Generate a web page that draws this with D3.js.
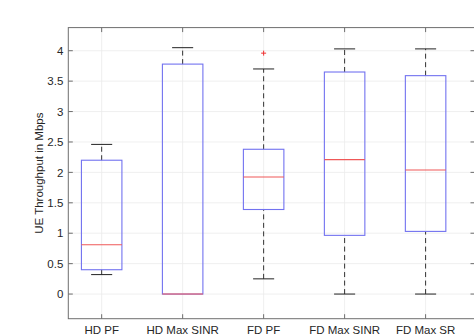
<!DOCTYPE html>
<html>
<head>
<meta charset="utf-8">
<script src="https://cdn.jsdelivr.net/npm/d3@7"></script>
<style>
  html, body { margin: 0; padding: 0; background: #fff; }
  svg { display: block; }
  text { font-family: "Liberation Sans", Arial, Helvetica, sans-serif; fill: #262626; }
</style>
</head>
<body>
<svg id="chart" width="474" height="335"></svg>
<script>
// Per-scheme UE throughput statistics (Mbps)
const categories  = ["HD PF", "HD Max SINR", "FD PF", "FD Max SINR", "FD Max SR"];
const whiskerLow  = [0.32, 0.00, 0.25, 0.00, 0.00];
const q1          = [0.40, 0.00, 1.39, 0.965, 1.03];
const medians     = [0.81, 0.00, 1.925, 2.21, 2.04];
const q3          = [2.20, 3.78, 2.38, 3.65, 3.59];
const whiskerHigh = [2.46, 4.05, 3.70, 4.03, 4.03];
const outliers    = [[], [], [3.96], [], []];
const yTicks      = [0, 0.5, 1, 1.5, 2, 2.5, 3, 3.5, 4];
const yLimits     = [-0.405, 4.38];
const xLimits     = [0.588, 5.61];

const svg = d3.select("#chart");
const plot = { left: 68.3, right: 475, top: 27.6, bottom: 318.7 };

const x = d3.scaleLinear().domain(xLimits).range([plot.left, plot.right]);
const y = d3.scaleLinear().domain(yLimits).range([plot.bottom, plot.top]);
const pos = categories.map((c, i) => i + 1);
const boxHalf = 0.25, capHalf = 0.13, tickLen = 4.5;

// grid
const grid = svg.append("g").attr("stroke", "#ebebeb").attr("stroke-width", 0.8);
grid.selectAll(".gy").data(yTicks).join("line")
  .attr("x1", plot.left).attr("x2", plot.right)
  .attr("y1", d => y(d)).attr("y2", d => y(d));
grid.selectAll(".gx").data(pos).join("line")
  .attr("y1", plot.top).attr("y2", plot.bottom)
  .attr("x1", d => x(d)).attr("x2", d => x(d));

// axes frame and inward ticks
const ax = svg.append("g").attr("stroke", "#6e6e6e").attr("stroke-width", 1).attr("fill", "none");
ax.append("rect").attr("x", plot.left).attr("y", plot.top)
  .attr("width", plot.right - plot.left).attr("height", plot.bottom - plot.top);
yTicks.forEach(t => {
  ax.append("line").attr("x1", plot.left).attr("x2", plot.left + tickLen).attr("y1", y(t)).attr("y2", y(t));
  ax.append("line").attr("x1", plot.right - tickLen).attr("x2", plot.right).attr("y1", y(t)).attr("y2", y(t));
});
pos.forEach(p => {
  ax.append("line").attr("x1", x(p)).attr("x2", x(p)).attr("y1", plot.bottom).attr("y2", plot.bottom - tickLen);
  ax.append("line").attr("x1", x(p)).attr("x2", x(p)).attr("y1", plot.top).attr("y2", plot.top + tickLen);
});

// tick labels
svg.append("g").selectAll("text").data(yTicks).join("text")
  .attr("x", plot.left - 5).attr("y", d => y(d)).attr("dy", "0.36em")
  .attr("text-anchor", "end").attr("font-size", 11.5)
  .text(d => d3.format("~g")(d));
svg.append("g").selectAll("text").data(categories).join("text")
  .attr("x", (d, i) => x(pos[i])).attr("y", 334.3)
  .attr("text-anchor", "middle").attr("font-size", 11.5)
  .text(d => d);

// y axis title
svg.append("text")
  .attr("transform", `translate(43, ${(plot.top + plot.bottom) / 2}) rotate(-90)`)
  .attr("text-anchor", "middle").attr("font-size", 11.5)
  .text("UE Throughput in Mbps");

// boxplots
const boxes = svg.append("g");
pos.forEach((p, i) => {
  const g = boxes.append("g");
  // whiskers
  const whisk = [[q3[i], whiskerHigh[i]], [whiskerLow[i], q1[i]]];
  whisk.forEach(([a, b]) => {
    if (b > a) {
      g.append("line").attr("x1", x(p)).attr("x2", x(p))
        .attr("y1", y(a)).attr("y2", y(b))
        .attr("stroke", "#333").attr("stroke-width", 1).attr("stroke-dasharray", "5,3.5");
    }
  });
  // caps
  [whiskerLow[i], whiskerHigh[i]].forEach(v => {
    if (v !== q1[i] || v !== medians[i]) {
      g.append("line").attr("x1", x(p - capHalf)).attr("x2", x(p + capHalf))
        .attr("y1", y(v)).attr("y2", y(v))
        .attr("stroke", "#222").attr("stroke-width", 1);
    }
  });
  // box
  g.append("rect")
    .attr("x", x(p - boxHalf)).attr("width", x(p + boxHalf) - x(p - boxHalf))
    .attr("y", y(q3[i])).attr("height", Math.max(0, y(q1[i]) - y(q3[i])))
    .attr("fill", "none").attr("stroke", "#7272f0").attr("stroke-width", 1.1);
  // median
  g.append("line").attr("x1", x(p - boxHalf)).attr("x2", x(p + boxHalf))
    .attr("y1", y(medians[i])).attr("y2", y(medians[i]))
    .attr("stroke", "#ef5858").attr("stroke-width", 1.1);
  // outliers
  outliers[i].forEach(v => {
    g.append("path")
      .attr("d", `M${x(p) - 2.5},${y(v)}h5M${x(p)},${y(v) - 2.5}v5`)
      .attr("stroke", "#ef3030").attr("stroke-width", 1);
  });
});
</script>
</body>
</html>
